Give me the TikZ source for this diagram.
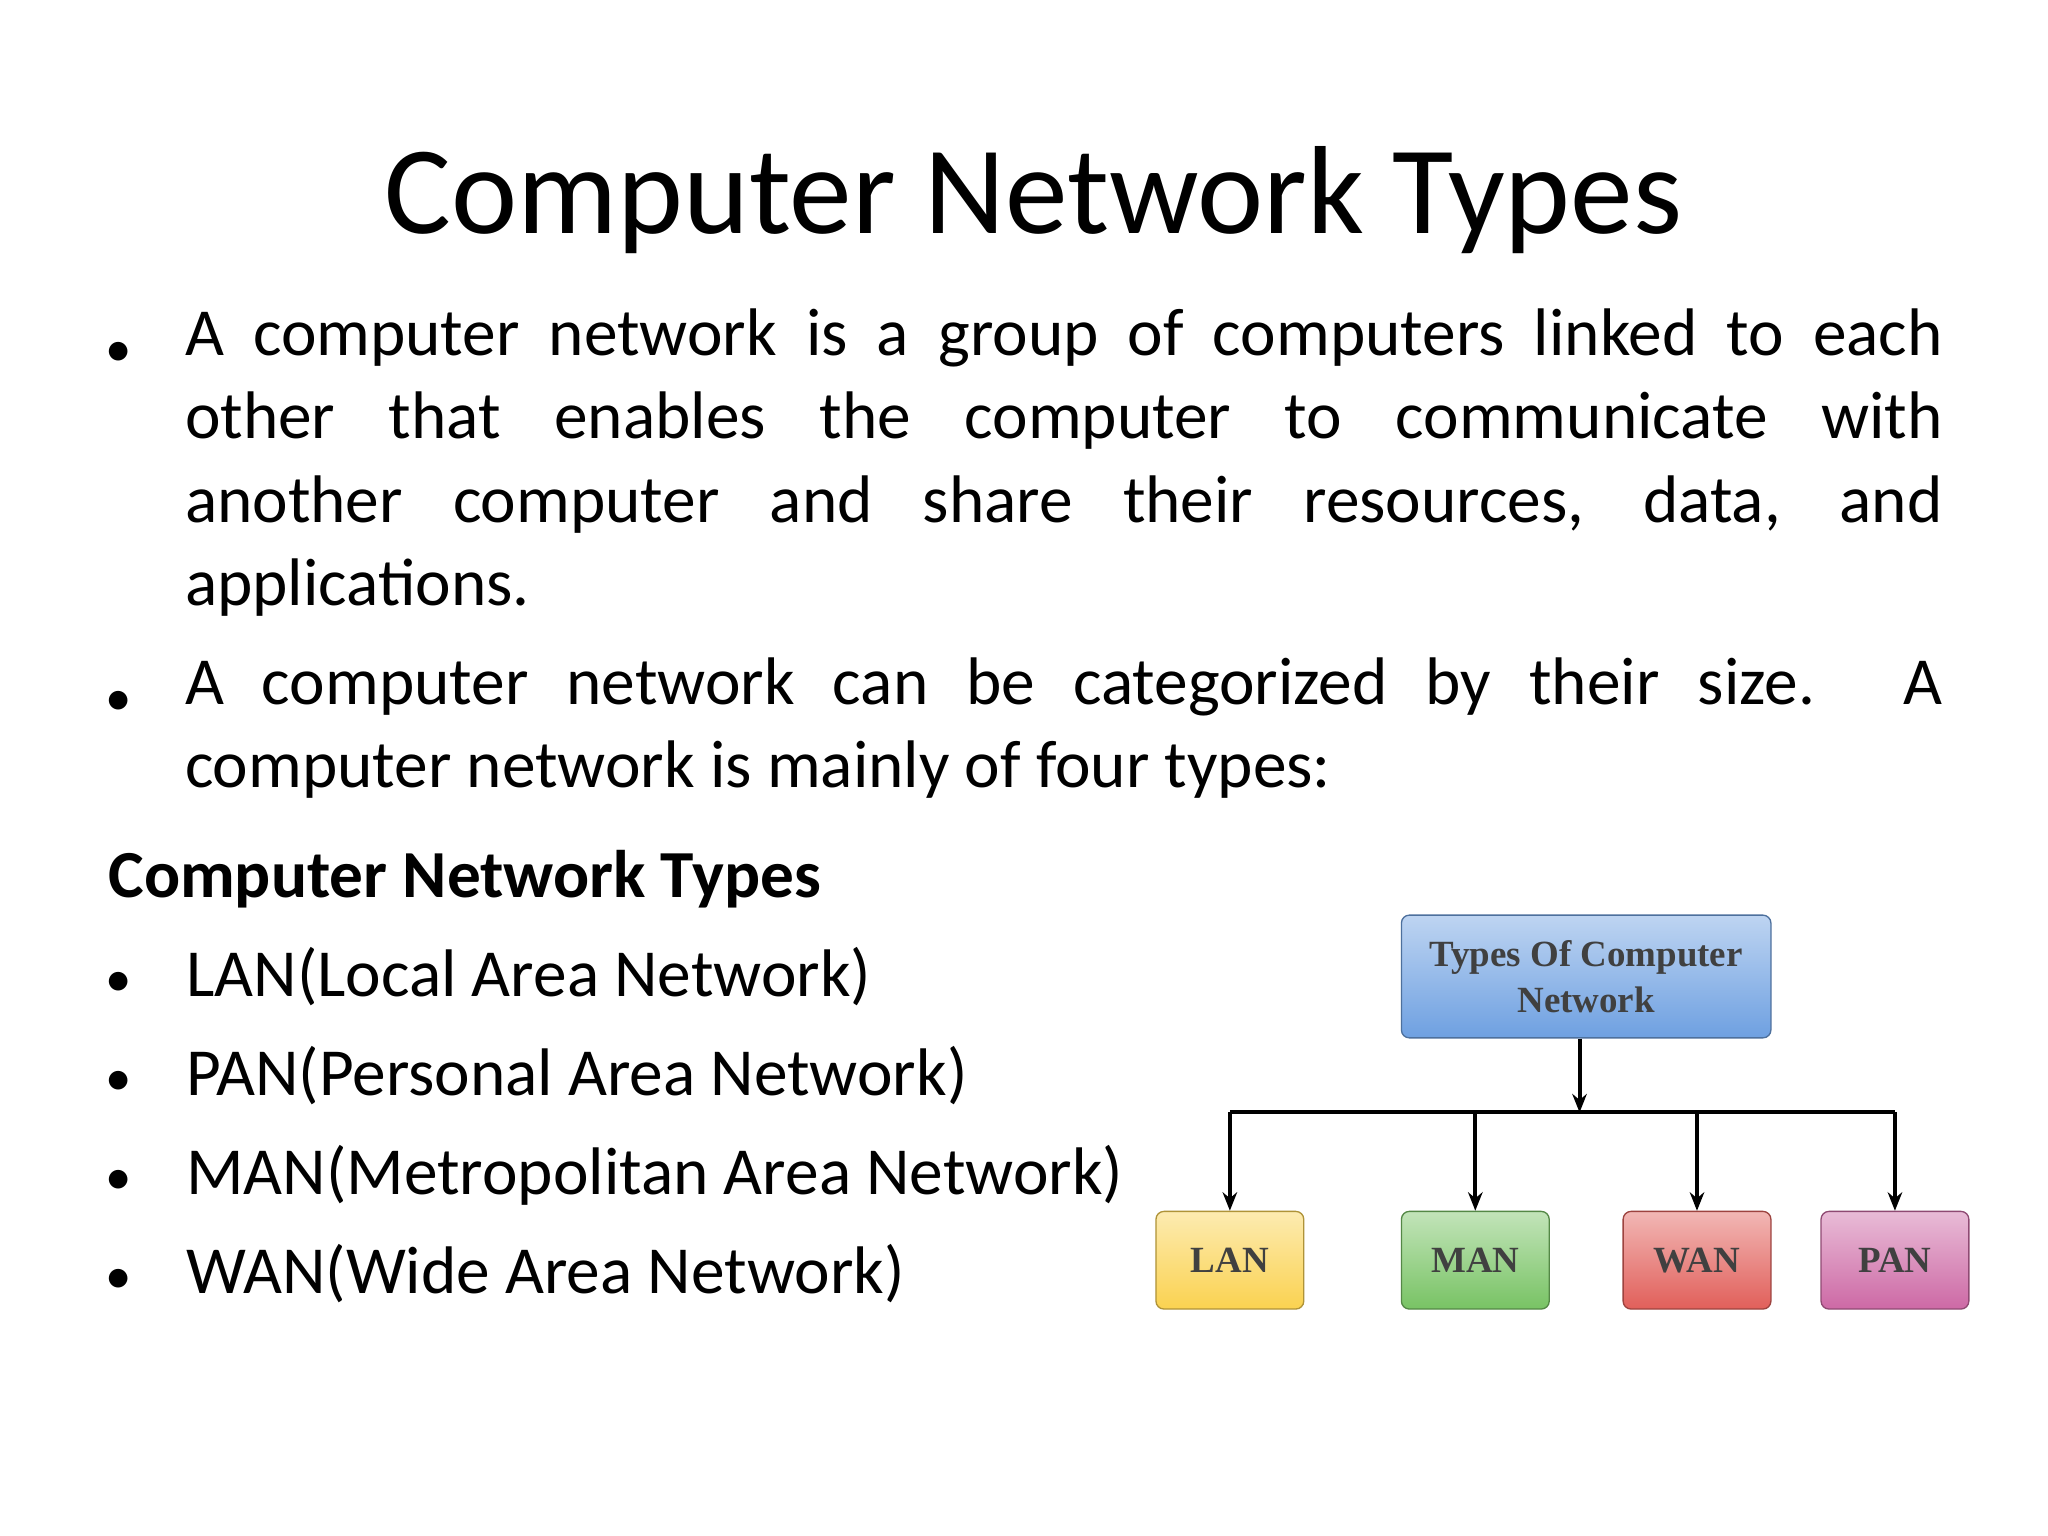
\documentclass[tikz,border=0pt]{standalone}
\usepackage{fontspec}
\usetikzlibrary{arrows.meta}
\setmainfont{Carlito}
\newfontfamily\serifb{Liberation Serif}
\definecolor{cblue}{RGB}{110,160,225}
\definecolor{cyel}{RGB}{250,210,80}
\definecolor{cgrn}{RGB}{120,195,100}
\definecolor{cred}{RGB}{225,95,90}
\definecolor{cpnk}{RGB}{205,105,165}
\begin{document}
\begin{tikzpicture}[x=1pt,y=-1pt,
  body/.style={anchor=north west,inner sep=0pt,font=\fontsize{51}{63}\selectfont},
  bl/.style={anchor=base,inner sep=0pt,font=\fontsize{40}{50}\selectfont},
  tbox/.style={draw=#1!70!black,rounded corners=6pt,minimum width=112pt,minimum height=74pt,font=\serifb\bfseries\fontsize{28}{35}\selectfont,text=black!75,top color=#1!45,bottom color=#1,line width=1pt},
  arr/.style={-{Stealth[length=14pt,width=11pt]},line width=3pt}]
\useasboundingbox (0,0) rectangle (1552,1164);
\fill[white] (0,0) rectangle (1552,1164);
\node[anchor=base,inner sep=0pt,font=\fontsize{95}{100}\selectfont] (title) at (783,177) {Computer Network Types};
\node[bl] (b1) at (90,278) {•};
\node[body,text width=1332pt,align=justify] (p1) at (140,234) {A computer network is a group of computers linked to each\linebreak other that enables the computer to communicate with\linebreak another computer and share their resources, data, and\linebreak applications.};
\node[bl] (b2) at (90,542) {•};
\node[body,text width=1332pt,align=justify] (p2) at (140,498) {A computer network can be categorized by their size. A\linebreak computer network is mainly of four types:\par};
\node[anchor=base west,inner sep=0pt,font=\bfseries\fontsize{51}{58}\selectfont] (h) at (82,680) {Computer Network Types};
\foreach \t/\y [count=\i] in {LAN(Local Area Network)/755,PAN(Personal Area Network)/830,MAN(Metropolitan Area Network)/905,WAN(Wide Area Network)/980}{
  \node[bl] (lb\i) at (90,\y) {•};
  \node[anchor=base west,inner sep=0pt,font=\fontsize{51}{58}\selectfont] (li\i) at (141,\y) {\t};
}
\node[tbox=cblue,minimum width=280pt,minimum height=93pt,align=center] (top) at (1202,740) {Types Of Computer\\Network};
\node[tbox=cyel] (lan) at (932,955) {LAN};
\node[tbox=cgrn] (man) at (1118,955) {MAN};
\node[tbox=cred] (wan) at (1286,955) {WAN};
\node[tbox=cpnk] (pan) at (1436,955) {PAN};
\coordinate (j) at (1197,843);
\draw[arr] (top.south -| j) -- (j);
\draw[line width=3pt] (932,843) -- (1436,843);
\foreach \n/\x in {lan/932,man/1118,wan/1286,pan/1436}
  \draw[arr] (\x,843) -- (\n.north);
\end{tikzpicture}
\end{document}
